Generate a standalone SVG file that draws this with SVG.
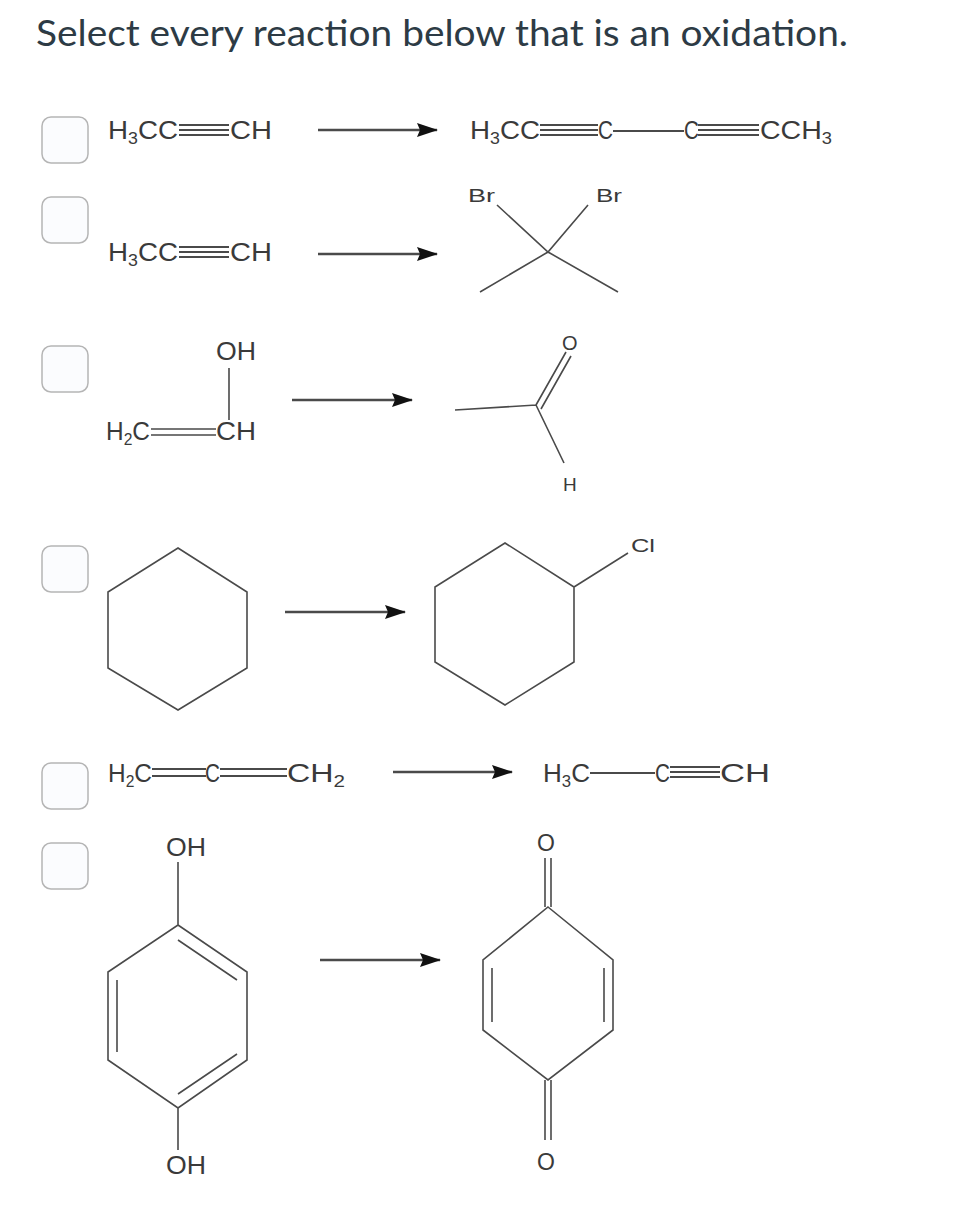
<svg xmlns="http://www.w3.org/2000/svg" width="964" height="1220" viewBox="0 0 964 1220">
<style>
.t{font-family:"Liberation Sans",Arial,sans-serif;font-size:25px;fill:#3a3a3a}
.s{font-size:16px}
.b{stroke:#4a4a4a;stroke-width:2;fill:none}
.cb{fill:#fbfcfe;stroke:#b5b5b5;stroke-width:1.5}
.h{font-family:Lato,"Liberation Sans",sans-serif;font-size:36px;fill:#2d3b45}
</style>
<defs><marker id="ah" markerWidth="21" markerHeight="14" refX="20" refY="7" orient="auto" markerUnits="userSpaceOnUse" viewBox="0 0 21 14"><path d="M0,0L21,7L0,14L3,7Z" fill="#111"/></marker></defs>
<text class="h" x="36" y="46" textLength="812" lengthAdjust="spacingAndGlyphs">Select every reaction below that is an oxidation.</text>
<g id="checkboxes">
<rect class="cb" x="42" y="117" width="46" height="46" rx="9"/>
<rect class="cb" x="42" y="197" width="46" height="46" rx="9"/>
<rect class="cb" x="42" y="346" width="46" height="46" rx="9"/>
<rect class="cb" x="42" y="546" width="46" height="46" rx="9"/>
<rect class="cb" x="42" y="763" width="46" height="46" rx="9"/>
<rect class="cb" x="42" y="843" width="46" height="46" rx="9"/>
</g>
<g id="connectors" stroke="#4a4a4a" stroke-width="2.5">
<line x1="318" y1="130" x2="437" y2="130" marker-end="url(#ah)"/>
<line x1="318" y1="254" x2="437" y2="254" marker-end="url(#ah)"/>
<line x1="292" y1="400" x2="412" y2="400" marker-end="url(#ah)"/>
<line x1="285" y1="612" x2="405" y2="612" marker-end="url(#ah)"/>
<line x1="393" y1="772" x2="512" y2="772" marker-end="url(#ah)"/>
<line x1="320" y1="960" x2="440" y2="960" marker-end="url(#ah)"/>
</g>
<g id="r1">
<text class="t" x="108" y="139" textLength="70" lengthAdjust="spacingAndGlyphs">H<tspan class="s" dy="5">3</tspan><tspan dy="-5">CC</tspan></text>
<path class="b" d="M179,125H229M179,130H229M179,135H229"/>
<text class="t" x="230" y="139" textLength="42" lengthAdjust="spacingAndGlyphs">CH</text>
<text class="t" x="470" y="139" textLength="70" lengthAdjust="spacingAndGlyphs">H<tspan class="s" dy="5">3</tspan><tspan dy="-5">CC</tspan></text>
<path class="b" d="M540,125H598M540,130H598M540,135H598M613,131H684M698,125H759M698,130H759M698,135H759"/>
<text class="t" x="598" y="139" textLength="15" lengthAdjust="spacingAndGlyphs">C</text>
<text class="t" x="684" y="139" textLength="15" lengthAdjust="spacingAndGlyphs">C</text>
<text class="t" x="760" y="139" textLength="72" lengthAdjust="spacingAndGlyphs">CCH<tspan class="s" dy="5">3</tspan></text>
</g>
<g id="r2">
<text class="t" x="108" y="261" textLength="70" lengthAdjust="spacingAndGlyphs">H<tspan class="s" dy="5">3</tspan><tspan dy="-5">CC</tspan></text>
<path class="b" d="M179,247H229M179,252H229M179,257H229"/>
<text class="t" x="230" y="261" textLength="42" lengthAdjust="spacingAndGlyphs">CH</text>
<text class="t" x="468" y="202" style="font-size:19px" textLength="27" lengthAdjust="spacingAndGlyphs">Br</text>
<text class="t" x="596" y="202" style="font-size:19px" textLength="26" lengthAdjust="spacingAndGlyphs">Br</text>
<path class="b" style="stroke-width:1.6" d="M497,205L548,252L588,205M480,292L548,252L618,292"/>
</g>
<g id="r3">
<text class="t" x="216" y="360" textLength="40" lengthAdjust="spacingAndGlyphs">OH</text>
<path class="b" style="stroke-width:1.6" d="M229,368V420M151,429H216M151,435H216"/>
<text class="t" x="106" y="440" textLength="44" lengthAdjust="spacingAndGlyphs">H<tspan class="s" dy="5">2</tspan><tspan dy="-5">C</tspan></text>
<text class="t" x="216" y="440" textLength="40" lengthAdjust="spacingAndGlyphs">CH</text>
<path class="b" style="stroke-width:1.6" d="M455,410L536,405L564,463M536,405L566,352M541,409L571,356"/>
<text class="t" x="562" y="350" style="font-size:20px">O</text>
<text class="t" x="563" y="491" style="font-size:19px">H</text>
</g>
<g id="r4">
<path class="b" style="stroke-width:1.6" d="M178,548L247,592V668L178,710L108,668V592Z"/>
<path class="b" style="stroke-width:1.6" d="M505,543L574,587V662L505,705L435,662V587ZM574,587L628,553"/>
<text class="t" x="631" y="552" style="font-size:19px" textLength="24" lengthAdjust="spacingAndGlyphs">Cl</text>
</g>
<g id="r5">
<text class="t" x="108" y="782" textLength="44" lengthAdjust="spacingAndGlyphs">H<tspan class="s" dy="5">2</tspan><tspan dy="-5">C</tspan></text>
<path class="b" d="M152,769H206M152,776H206M220,769H287M220,776H287"/>
<text class="t" x="205" y="782" textLength="15" lengthAdjust="spacingAndGlyphs">C</text>
<text class="t" x="287" y="782" textLength="58" lengthAdjust="spacingAndGlyphs">CH<tspan class="s" dy="5">2</tspan></text>
<text class="t" x="543" y="782" textLength="47" lengthAdjust="spacingAndGlyphs">H<tspan class="s" dy="5">3</tspan><tspan dy="-5">C</tspan></text>
<path class="b" d="M590,773H655M670,767H720M670,772H720M670,777H720"/>
<text class="t" x="655" y="782" textLength="15" lengthAdjust="spacingAndGlyphs">C</text>
<text class="t" x="720" y="782" textLength="50" lengthAdjust="spacingAndGlyphs">CH</text>
</g>
<g id="r6">
<text class="t" x="166" y="856" textLength="40" lengthAdjust="spacingAndGlyphs">OH</text>
<text class="t" x="166" y="1174" textLength="40" lengthAdjust="spacingAndGlyphs">OH</text>
<path class="b" style="stroke-width:1.6" d="M178,862V925M178,925L247,972V1060L178,1108L108,1060V972ZM178,1108V1150M178,940L237,980M117,980V1052M178,1094L237,1054"/>
<text class="t" x="537" y="851" style="font-size:23px">O</text>
<text class="t" x="537" y="1170" style="font-size:23px">O</text>
<path class="b" style="stroke-width:1.6" d="M545,858V907M551,858V907M548,907L613,960V1030L548,1080L483,1030V960ZM545,1080V1140M551,1080V1140M492,968V1022M604,968V1022"/>
</g>
</svg>
